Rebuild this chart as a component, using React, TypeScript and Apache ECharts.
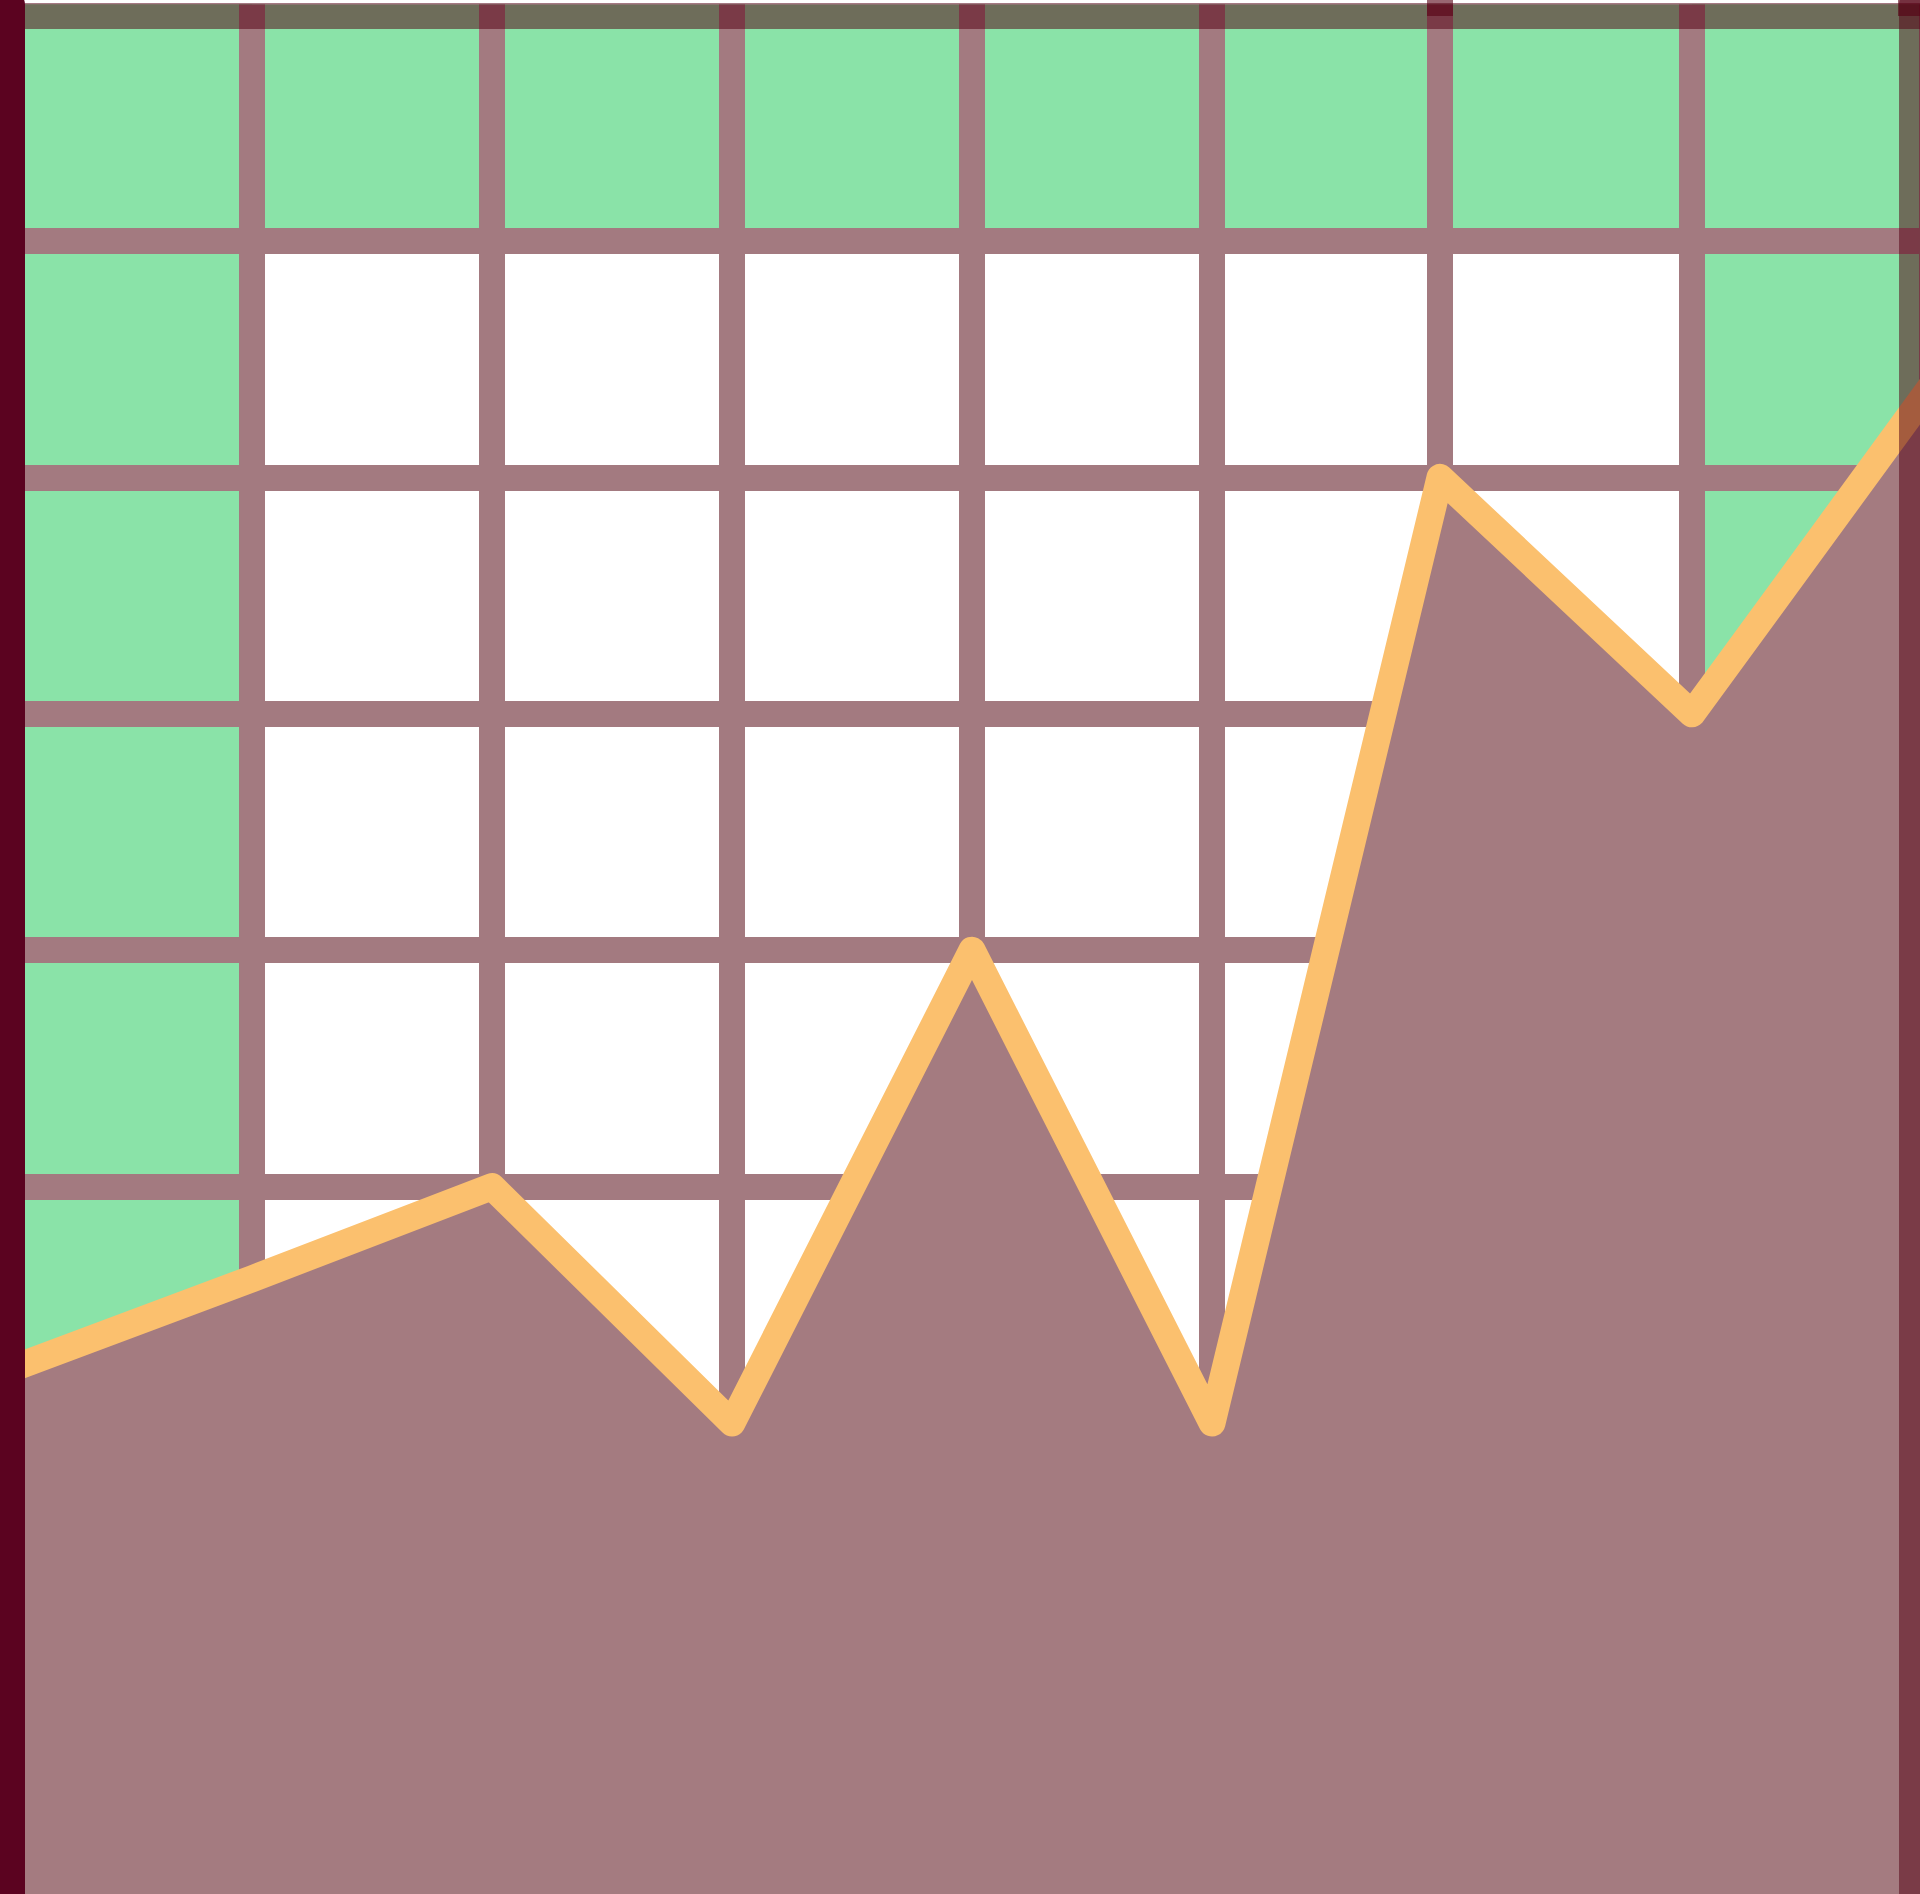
import React, { useEffect, useRef } from "react";
import * as echarts from "echarts";

// ---- data ----
const xPositions = [0, 1, 2, 3, 4, 5, 5.95, 7, 8];
const values = [223, 261, 300, 200, 400, 200, 600, 500, 639];
const xMin = 0;
const xMax = 8;
const yMin = -100;
const yMax = 800;
const yInterval = 100;
const topTickMarks = [5.95, 7.91];

// ---- colours ----
const GREEN = "#8ae3a8";
const NONE = "rgba(0,0,0,0)";
const GRIDLINE = "#a37a80";
const AREA = "#a47b80";
const ORANGE = "#fbc06e";
const AXIS_DARK = "#5b0320";
const OVERLAY = "rgba(85,0,19,0.52)";
const CAP = "rgba(85,0,19,0.6)";

const xBandColors = [GREEN, NONE, NONE, NONE, NONE, NONE, NONE, GREEN];
const yBandColors = [NONE, NONE, NONE, NONE, NONE, NONE, NONE, NONE, GREEN];

export default function App() {
  const ref = useRef<HTMLDivElement>(null);

  useEffect(() => {
    if (!ref.current) return;
    const chart = echarts.init(ref.current, null, { renderer: "svg" });

    const hidden = {
      axisLabel: { show: false },
      axisTick: { show: false },
      axisLine: { show: false },
      splitLine: { show: false },
      splitArea: { show: false },
    };
    const xAxisOf = (extra: any) => ({
      type: "value",
      min: xMin,
      max: xMax,
      interval: 1,
      ...hidden,
      axisTick: { show: false, customValues: xPositions },
      ...extra,
    });
    const yAxisOf = (extra: any) => ({
      type: "value",
      min: yMin,
      max: yMax,
      interval: yInterval,
      ...hidden,
      ...extra,
    });

    chart.setOption({
      animation: false,
      backgroundColor: "#ffffff",
      grid: {
        left: 12,
        top: 4.6,
        width: 1920,
        height: 2127.6,
        containLabel: false,
        outerBoundsMode: "none",
      },
      xAxis: [
        xAxisOf({
          z: 0,
          splitArea: { show: true, areaStyle: { color: xBandColors } },
        }),
        xAxisOf({
          z: 1,
          splitLine: {
            show: true,
            showMinLine: true,
            showMaxLine: true,
            lineStyle: { color: GRIDLINE, width: 26 },
          },
        }),
        xAxisOf({
          z: 10,
          position: "top",
          offset: -11.4,
          axisLine: { show: true, onZero: false, lineStyle: { color: OVERLAY, width: 26 } },
          axisTick: {
            show: true,
            inside: false,
            length: 16,
            customValues: topTickMarks,
            lineStyle: { color: CAP, width: 26 },
          },
        }),
      ],
      yAxis: [
        yAxisOf({
          z: 0,
          splitArea: { show: true, areaStyle: { color: yBandColors } },
        }),
        yAxisOf({
          z: 1,
          splitLine: {
            show: true,
            showMaxLine: false,
            lineStyle: { color: GRIDLINE, width: 26 },
          },
        }),
        yAxisOf({
          z: 11,
          position: "left",
          axisLine: { show: true, onZero: false, lineStyle: { color: AXIS_DARK, width: 26 } },
        }),
        yAxisOf({
          z: 10,
          position: "right",
          offset: -20,
          axisLine: { show: true, onZero: false, lineStyle: { color: OVERLAY, width: 26 } },
        }),
      ],
      series: [
        {
          type: "line",
          data: xPositions.map((x, i) => [x, values[i]]),
          xAxisIndex: 0,
          yAxisIndex: 0,
          z: 2,
          symbol: "none",
          showSymbol: false,
          lineStyle: { color: ORANGE, width: 27, join: "round", cap: "round" },
          areaStyle: { color: AREA, opacity: 1, origin: "start" },
        },
      ],
    });

    return () => chart.dispose();
  }, []);

  return (
    <div
      ref={ref}
      style={{ position: "absolute", left: 0, top: 0, width: 1920, height: 1894 }}
    />
  );
}
